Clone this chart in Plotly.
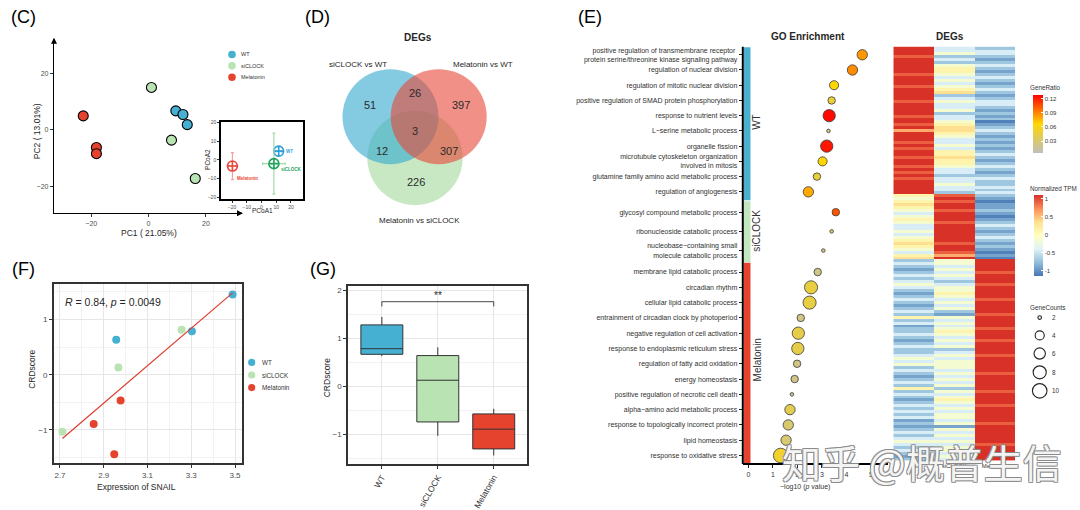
import numpy as np
import plotly.graph_objects as go

W, H = 1080, 510
FONT = "Liberation Sans, Arial, Helvetica, sans-serif"


def X(px):
    return px / W


def Y(py):
    return 1 - py / H


# ======================= DATA =======================
groups = ["WT", "siCLOCK", "Melatonin"]

# (C) PCA of samples
pca_group = ["WT", "WT", "WT", "siCLOCK", "siCLOCK", "siCLOCK",
             "Melatonin", "Melatonin", "Melatonin"]
pca_pc1 = [9.5, 12.0, 13.5, 1.0, 8.0, 16.3, -22.8, -18.2, -18.2]
pca_pc2 = [6.7, 5.4, 1.8, 15.0, -3.7, -17.3, 4.9, -6.3, -8.5]
pca_ticks = [-20, 0, 20]
pcoa_ticks = [-20, -10, 0, 10, 20]

# (D) Venn of DEGs
venn_set_names = ["siCLOCK vs WT", "Melatonin vs WT", "Melatonin vs siCLOCK"]
venn_regions = ["A", "AB", "B", "ABC", "AC", "BC", "C"]
venn_counts = [51, 26, 397, 3, 12, 307, 226]

# (E) GO enrichment
go_group = ["WT"] * 10 + ["siCLOCK"] * 3 + ["Melatonin"] * 13
go_terms = [
    "positive regulation of transmembrane receptor <br>protein serine/threonine kinase signaling pathway",
    "regulation of nuclear division",
    "regulation of mitotic nuclear division",
    "positive regulation of SMAD protein phosphorylation",
    "response to nutrient levels",
    "L\u2212serine metabolic process",
    "organelle fission",
    "microtubule cytoskeleton organization<br>involved in mitosis",
    "glutamine family amino acid metabolic process",
    "regulation of angiogenesis",
    "glycosyl compound metabolic process",
    "ribonucleoside catabolic process",
    "nucleobase\u2212containing small<br>molecule catabolic process",
    "membrane lipid catabolic process",
    "circadian rhythm",
    "cellular lipid catabolic process",
    "entrainment of circadian clock by photoperiod",
    "negative regulation of cell activation",
    "response to endoplasmic reticulum stress",
    "regulation of fatty acid oxidation",
    "energy homeostasis",
    "positive regulation of necrotic cell death",
    "alpha\u2212amino acid metabolic process",
    "response to topologically incorrect protein",
    "lipid homeostasis",
    "response to oxidative stress",
]
go_logp = [4.65, 4.25, 3.50, 3.40, 3.30, 3.27, 3.20, 3.03, 2.80, 2.45,
           3.57, 3.40, 3.06,
           2.83, 2.56, 2.50, 2.14, 2.04, 2.02, 1.99, 1.89, 1.78, 1.70, 1.63, 1.54, 1.32]
go_counts = [5, 5, 4, 3, 7, 2, 7, 4, 3, 5,
             3, 2, 2,
             3, 8, 8, 3, 7, 7, 3, 3, 2, 5, 5, 5, 10]
go_ratio = [0.085, 0.088, 0.066, 0.048, 0.125, 0.030, 0.122, 0.066, 0.047, 0.080,
            0.104, 0.033, 0.028,
            0.024, 0.046, 0.045, 0.024, 0.043, 0.043, 0.023, 0.023, 0.020, 0.040, 0.031, 0.030, 0.052]
go_xticks = [0, 1, 2, 3, 4, 5]
size_legend_counts = [2, 4, 6, 8, 10]
ratio_ticks = [0.03, 0.06, 0.09, 0.12]

# (E) heatmap of DEGs: one character per gene row,
# decoded through tpm_levels (blocks: WT-up 50, siCLOCK-up 22, Melatonin-up 68)
tpm_levels = [-1.10, -0.92, -0.72, -0.45, -0.15, 0.10, 0.34, 0.58, 0.90, 1.08]
hm_wt = ("9998999998 9998999989 9998998979 9989899899 8989899999"
         "5456543454 3343456543 56"
         "2321232343 2123212325 2312232123 2234342321 2325232123 2323121232 34323212")
hm_si = ("3342324554 3434562343 3423345665 4334355655 4332334332"
         "8989989998 9999998998 79"
         "4434343234 4543434214 3434543434 2343444343 4342434543 4344341434 34344343")
hm_mel = ("2332123212 3212321233 2121201232 1212123212 3212322323"
          "2101121012 3212321210 10"
          "9999899989 9998999989 9998999899 9989999989 9999899998 9999989999 99899999")
tpm_ticks = [-1, -0.5, 0, 0.5, 1]

# (F)/(G) CRD score vs SNAIL expression
crd_group = ["WT", "WT", "WT", "siCLOCK", "siCLOCK", "siCLOCK",
             "Melatonin", "Melatonin", "Melatonin"]
snail_expr = [3.489, 3.303, 2.957, 3.256, 2.967, 2.711, 2.977, 2.854, 2.948]
crd_score = [1.452, 0.789, 0.633, 0.817, 0.131, -1.030, -0.466, -0.890, -1.440]
snail_ticks = [2.7, 2.9, 3.1, 3.3, 3.5]
crd_ticks_f = [-1, 0, 1]
crd_ticks_g = [-1, 0, 1, 2]
cor_label = "<i>R</i> = 0.84, <i>p</i> = 0.0049"
sig_label = "**"

# ======================= STYLE =======================
col = {"WT": "#46b0d3", "siCLOCK": "#b9e3b2", "Melatonin": "#e6432f"}
inset_col = {"WT": "#2f9fd8", "siCLOCK": "#20a55c", "Melatonin": "#e64a3c"}
inset_err = {"WT": "#92cdea", "siCLOCK": "#a3dbac", "Melatonin": "#f1a29a"}
TXT = "#262626"

fig = go.Figure()
shapes = []
ann = []


def txt(px, py, text, size=8, color=TXT, xanchor="center", yanchor="middle",
        angle=0, family=FONT, **kw):
    return dict(x=X(px), y=Y(py), xref="paper", yref="paper", text=text, showarrow=False,
                font=dict(family=family, size=size, color=color), xanchor=xanchor,
                yanchor=yanchor, textangle=angle, **kw)


def circle(cx, cy, r, fill, line_color=None, lw=0, opacity=1.0, layer="above"):
    return dict(type="circle", xref="paper", yref="paper",
                x0=X(cx - r), x1=X(cx + r), y0=Y(cy + r), y1=Y(cy - r),
                fillcolor=fill, opacity=opacity, layer=layer,
                line=dict(color=line_color or fill, width=lw))


# ---------------- (C) PCA ----------------
for g in groups:
    idx = [i for i, gg in enumerate(pca_group) if gg == g]
    fig.add_trace(go.Scatter(
        x=[pca_pc1[i] for i in idx], y=[pca_pc2[i] for i in idx], mode="markers",
        marker=dict(size=10, color=col[g], line=dict(color="black", width=1.1)),
        xaxis="x", yaxis="y", hoverinfo="skip"))

# inset: group centroid +- SD
for g in groups:
    idx = [i for i, gg in enumerate(pca_group) if gg == g]
    xs = np.array([pca_pc1[i] for i in idx])
    ys = np.array([pca_pc2[i] for i in idx])
    fig.add_trace(go.Scatter(
        x=[xs.mean()], y=[ys.mean()], mode="markers",
        marker=dict(symbol="circle-cross-open", size=10, color=inset_col[g],
                    line=dict(color=inset_col[g], width=1.6)),
        error_x=dict(type="data", array=[xs.std(ddof=1)], color=inset_err[g], thickness=1.2, width=1.5),
        error_y=dict(type="data", array=[ys.std(ddof=1)], color=inset_err[g], thickness=1.2, width=1.5),
        xaxis="x2", yaxis="y2", hoverinfo="skip"))
    offs = {"WT": (5, 0), "siCLOCK": (5, -6), "Melatonin": (3, -12)}[g]
    ann.append(dict(x=xs.mean(), y=ys.mean(), xref="x2", yref="y2", text="<b>%s</b>" % g,
                    showarrow=False, xanchor="left", yanchor="middle",
                    xshift=offs[0], yshift=offs[1],
                    font=dict(family=FONT, size=4.5, color=inset_col[g])))

# C legend
for k, g in enumerate(groups):
    cy = 53 + k * 11.5
    shapes.append(circle(232, cy, 3.8, col[g]))
    ann.append(txt(239, cy, g, size=5.5, color="#333", xanchor="left"))

# axis arrows
ann.append(dict(x=X(243), y=Y(213.3), xref="paper", yref="paper", ax=-7, ay=0, text="",
                showarrow=True, arrowhead=2, arrowsize=1, arrowwidth=1.2, arrowcolor="black"))
ann.append(dict(x=X(54), y=Y(36), xref="paper", yref="paper", ax=0, ay=7, text="",
                showarrow=True, arrowhead=2, arrowsize=1, arrowwidth=1.2, arrowcolor="black"))

ann += [
    txt(23, 15, "(C)", size=18, color="black"),
    txt(36.5, 131, "PC2 ( 13.01%)", size=8.5, angle=-90),
    txt(148.5, 233.5, "PC1 ( 21.05%)", size=8.5),
    txt(262, 211, "PCoA1", size=6.5),
    txt(207.5, 159, "PCoA2", size=6.5, angle=-90),
]

# ---------------- (D) Venn ----------------
venn_circles = [  # drawing order: green, blue, red
    (415.0, 157.5, 47.7, "rgba(163,217,157,0.60)"),
    (390.5, 115.8, 48.0, "rgba(50,168,206,0.60)"),
    (438.7, 115.8, 48.0, "rgba(232,70,55,0.60)"),
]
for cx, cy, r, c in venn_circles:
    shapes.append(circle(cx, cy, r, c, layer="below"))
venn_text_px = {"A": (370, 104.5), "AB": (415, 92), "B": (460.5, 104.5), "ABC": (414.5, 130),
                "AC": (382, 150), "BC": (448.5, 150), "C": (416, 182)}
for reg, cnt in zip(venn_regions, venn_counts):
    px, py = venn_text_px[reg]
    ann.append(txt(px, py, str(cnt), size=11, color="#2a2a2a"))
ann += [
    txt(317, 15, "(D)", size=18, color="black"),
    txt(418, 36, "<b>DEGs</b>", size=10),
    txt(358, 63, venn_set_names[0], size=8),
    txt(483, 63, venn_set_names[1], size=8),
    txt(419, 221, venn_set_names[2], size=8),
]

# ---------------- (E) GO enrichment ----------------
def dot_size(c):
    return 3.6 + 11.0 * np.sqrt((c - 2) / 8.0)


facet_axes = {"WT": ("x5", "y5"), "siCLOCK": ("x6", "y6"), "Melatonin": ("x7", "y7")}
for g in groups:
    idx = [i for i, gg in enumerate(go_group) if gg == g]
    xa, ya = facet_axes[g]
    fig.add_trace(go.Scatter(
        x=[go_logp[i] for i in idx], y=[go_terms[i] for i in idx], mode="markers",
        marker=dict(size=[dot_size(go_counts[i]) for i in idx],
                    color=[go_ratio[i] for i in idx], coloraxis="coloraxis",
                    line=dict(color="#3a3a3a", width=0.8), opacity=1),
        xaxis=xa, yaxis=ya, hoverinfo="skip"))

# facet stripes
stripe = {"WT": (45.7, 200.3, "#4ab0cf"), "siCLOCK": (201.2, 262.8, "#c2e7bf"),
          "Melatonin": (263.3, 465.5, "#e6432f")}
for g in groups:
    y0, y1, c = stripe[g]
    shapes.append(dict(type="rect", xref="paper", yref="paper", x0=X(744.0), x1=X(750.5),
                       y0=Y(y1), y1=Y(y0), fillcolor=c, line=dict(width=0), layer="above"))
shapes.append(dict(type="line", xref="paper", yref="paper", x0=X(742.8), x1=X(742.8),
                   y0=Y(466.6), y1=Y(45.2), line=dict(color="black", width=2)))
ann += [
    txt(757, 121, "WT", size=10, color="#333", angle=-90),
    txt(757, 231, "siCLOCK", size=10, color="#333", angle=-90),
    txt(757, 362, "Melatonin", size=10, color="#333", angle=-90),
    txt(590, 15, "(E)", size=18, color="black"),
    txt(807.5, 34.5, "<b>GO Enrichment</b>", size=10),
    txt(805, 489.5, "\u2212log10 (<i>p</i> value)", size=7, color="#333"),
]

# heatmap
wt_rows = hm_wt.replace(" ", "")
si_rows = hm_si.replace(" ", "")
mel_rows = hm_mel.replace(" ", "")
assert len(wt_rows) == len(si_rows) == len(mel_rows)
z = [[tpm_levels[int(a)], tpm_levels[int(b)], tpm_levels[int(c)]]
     for a, b, c in zip(wt_rows, si_rows, mel_rows)]
nrow = len(z)
fig.add_trace(go.Heatmap(z=z, x=groups, y=list(range(nrow)), coloraxis="coloraxis2",
                         xaxis="x8", yaxis="y8", hoverinfo="skip"))
ann.append(txt(950, 35, "<b>DEGs</b>", size=10))

# legends for E
ann.append(txt(1027.5, 86.5, "GeneRatio", size=6.3, color="#333", xanchor="left"))
ann.append(txt(1027.5, 188.5, "Normalized TPM", size=6.3, color="#333", xanchor="left"))
ann.append(txt(1027.5, 308.5, "GeneCounts", size=6.3, color="#333", xanchor="left"))
for k, c in enumerate(size_legend_counts):
    cy = [318.7, 336.7, 355.0, 374.0, 392.7][k]
    r = dot_size(c) / 2
    shapes.append(circle(1039.7, cy, r, "rgba(0,0,0,0)", line_color="#222", lw=1.1))
    ann.append(txt(1050, cy, str(c), size=6.3, color="#333", xanchor="left"))

# ---------------- (F) scatter + regression ----------------
for g in groups:
    idx = [i for i, gg in enumerate(crd_group) if gg == g]
    fig.add_trace(go.Scatter(
        x=[snail_expr[i] for i in idx], y=[crd_score[i] for i in idx], mode="markers",
        marker=dict(size=8, color=col[g]), xaxis="x3", yaxis="y3", hoverinfo="skip"))
sx = np.array(snail_expr)
sy = np.array(crd_score)
slope, icpt = np.polyfit(sx, sy, 1)
lx = np.array([sx.min(), sx.max()])
fig.add_trace(go.Scatter(x=lx, y=slope * lx + icpt, mode="lines",
                         line=dict(color="#dc3b2e", width=1.2),
                         xaxis="x3", yaxis="y3", hoverinfo="skip"))
for k, g in enumerate(groups):
    cy = 364 + k * 12.7
    shapes.append(circle(251.7, cy, 3.6, col[g]))
    ann.append(txt(259.5, cy, g, size=6.3, color="#333", xanchor="left"))
ann += [
    txt(23, 270, "(F)", size=18, color="black"),
    txt(62.5, 303, cor_label, size=10.5, xanchor="left"),
    txt(32.5, 371, "CRDscore", size=8.5, angle=-90),
    txt(136.5, 489.5, "Expression of SNAIL", size=8.5),
]

# ---------------- (G) boxplot ----------------
for g in groups:
    idx = [i for i, gg in enumerate(crd_group) if gg == g]
    fig.add_trace(go.Box(
        x=[g] * len(idx), y=[crd_score[i] for i in idx], boxpoints=False,
        quartilemethod="linear", fillcolor=col[g], line=dict(color="#333333", width=1),
        width=0.75, whiskerwidth=0, xaxis="x4", yaxis="y4", hoverinfo="skip"))
fig.add_trace(go.Scatter(x=[groups[0], groups[0], groups[2], groups[2]],
                         y=[1.67, 1.77, 1.77, 1.67], mode="lines",
                         line=dict(color="#333", width=0.9), xaxis="x4", yaxis="y4",
                         hoverinfo="skip"))
ann.append(dict(x=1, y=1.77, xref="x4", yref="y4", text=sig_label, showarrow=False,
                yanchor="bottom", yshift=-1, font=dict(family=FONT, size=10, color=TXT)))
ann += [
    txt(323, 270, "(G)", size=18, color="black"),
    txt(327, 380, "CRDscore", size=8.5, angle=-90),
]

# watermark
ann.append(dict(x=X(922), y=Y(464), xref="paper", yref="paper", text="\u77e5\u4e4e @\u6982\u666e\u751f\u4fe1",
                showarrow=False, xanchor="center", yanchor="middle",
                font=dict(family="Noto Sans CJK SC", size=39, color="rgba(255,255,255,0.93)",
                          shadow="-1px -1px 0 #8a8a8a, 1px -1px 0 #8a8a8a, -1px 1px 0 #8a8a8a, 1px 1px 0 #8a8a8a")))

# ======================= AXES =======================
tick_font = dict(family=FONT, size=7, color="#4d4d4d")
common = dict(zeroline=False, showgrid=False, ticks="outside", ticklen=3, tickwidth=1,
              tickcolor="#333", tickfont=tick_font)

layout_axes = dict(
    xaxis=dict(domain=[X(54), X(242)], anchor="y", range=[-33, 32.6], tickvals=pca_ticks,
               showline=True, linecolor="black", linewidth=1.3, **common),
    yaxis=dict(domain=[Y(213.3), Y(37)], anchor="x", range=[-29.6, 32.3], tickvals=pca_ticks,
               showline=True, linecolor="black", linewidth=1.3, **common),
    xaxis2=dict(domain=[X(221), X(303)], anchor="y2", range=[-27.5, 28.2], tickvals=pcoa_ticks,
                showline=True, mirror=True, linecolor="black", linewidth=1.6,
                zeroline=False, showgrid=False, ticks="outside", ticklen=2, tickcolor="#333",
                tickfont=dict(family=FONT, size=5, color="#4d4d4d")),
    yaxis2=dict(domain=[Y(199.3), Y(120.7)], anchor="x2", range=[-21, 20.4], tickvals=pcoa_ticks,
                showline=True, mirror=True, linecolor="black", linewidth=1.6,
                zeroline=False, showgrid=False, ticks="outside", ticklen=2, tickcolor="#333",
                tickfont=dict(family=FONT, size=5, color="#4d4d4d")),
    xaxis3=dict(domain=[X(54), X(241.7)], anchor="y3", range=[2.6726, 3.5306],
                tickvals=snail_ticks, ticktext=[f"{v:.1f}" for v in snail_ticks],
                showline=True, mirror=True, linecolor="#333", linewidth=2,
                showgrid=True, gridcolor="#e6e6e6", gridwidth=0.8, zeroline=False,
                ticks="outside", ticklen=3, tickcolor="#333",
                tickfont=dict(family=FONT, size=8, color="#4d4d4d"),
                minor=dict(tickvals=[2.8, 3.0, 3.2, 3.4], showgrid=True, gridcolor="#f2f2f2",
                           gridwidth=0.5, ticks="")),
    yaxis3=dict(domain=[Y(465.7), Y(285)], anchor="x3", range=[-1.6, 1.64],
                tickvals=crd_ticks_f,
                showline=True, mirror=True, linecolor="#333", linewidth=2,
                showgrid=True, gridcolor="#e6e6e6", gridwidth=0.8, zeroline=False,
                ticks="outside", ticklen=3, tickcolor="#333",
                tickfont=dict(family=FONT, size=8, color="#4d4d4d"),
                minor=dict(tickvals=[-1.5, -0.5, 0.5, 1.5], showgrid=True, gridcolor="#f2f2f2",
                           gridwidth=0.5, ticks="")),
    xaxis4=dict(domain=[X(348.3), X(527.3)], anchor="y4", type="category",
                categoryorder="array", categoryarray=groups, range=[-0.6, 2.6],
                tickangle=-60, showline=True, mirror=True, linecolor="#333", linewidth=2,
                showgrid=True, gridcolor="#e6e6e6", gridwidth=0.8, zeroline=False,
                ticks="outside", ticklen=3, tickcolor="#333",
                tickfont=dict(family=FONT, size=8.5, color="#333")),
    yaxis4=dict(domain=[Y(466.7), Y(286.7)], anchor="x4", range=[-1.62, 2.1],
                tickvals=crd_ticks_g,
                showline=True, mirror=True, linecolor="#333", linewidth=2,
                showgrid=True, gridcolor="#e6e6e6", gridwidth=0.8, zeroline=False,
                ticks="outside", ticklen=3, tickcolor="#333",
                tickfont=dict(family=FONT, size=8, color="#4d4d4d"),
                minor=dict(tickvals=[-1.5, -0.5, 0.5, 1.5], showgrid=True, gridcolor="#f2f2f2",
                           gridwidth=0.5, ticks="")),
    xaxis8=dict(domain=[X(893.3), X(1015)], anchor="y8", showgrid=False, zeroline=False,
                ticks="", tickfont=dict(family=FONT, size=6, color="#333")),
    yaxis8=dict(domain=[Y(463.3), Y(45)], anchor="x8", range=[nrow - 0.5, -0.5],
                visible=False),
)

go_dom = {"WT": (45.6, 199.4), "siCLOCK": (202.6, 260.7), "Melatonin": (265.0, 465.7)}
for k, g in enumerate(groups):
    n = go_group.count(g)
    xa = "xaxis%d" % (5 + k)
    ya = "yaxis%d" % (5 + k)
    top, bot = go_dom[g]
    layout_axes[xa] = dict(domain=[X(742.7), X(888)], anchor="y%d" % (5 + k),
                           range=[-0.23, 5.7], tickvals=go_xticks, showgrid=False,
                           zeroline=False, visible=(g == "Melatonin"),
                           showline=True, linecolor="black", linewidth=2,
                           ticks="outside", ticklen=3, tickcolor="#222",
                           tickfont=dict(family=FONT, size=7, color="#333"))
    layout_axes[ya] = dict(domain=[Y(bot), Y(top)], anchor="x%d" % (5 + k), type="category",
                           categoryorder="array",
                           categoryarray=[go_terms[i] for i, gg in enumerate(go_group) if gg == g],
                           range=[n - 0.5, -0.5], showgrid=False, zeroline=False,
                           showline=False, ticks="outside", ticklen=3, tickwidth=1,
                           tickcolor="#222", tickfont=dict(family=FONT, size=7, color="#303030"))

fig.update_layout(
    width=W, height=H, margin=dict(l=0, r=0, t=0, b=0),
    paper_bgcolor="white", plot_bgcolor="white", showlegend=False,
    font=dict(family=FONT, color=TXT),
    coloraxis=dict(
        colorscale=[[0, "rgb(190,190,190)"], [0.5, "rgb(255,215,0)"], [1, "rgb(255,0,0)"]],
        cmin=0.005, cmax=0.128,
        colorbar=dict(x=X(1033), xanchor="left", y=Y(123), yanchor="middle",
                      len=58, lenmode="pixels", thickness=10, thicknessmode="pixels",
                      xpad=0, ypad=0, outlinewidth=0, tickvals=ratio_ticks,
                      ticktext=[f"{v:.2f}" for v in ratio_ticks],
                      ticks="inside", ticklen=2, tickcolor="white",
                      tickfont=dict(family=FONT, size=6, color="#333"))),
    coloraxis2=dict(
        colorscale=[[0, "#4575B4"], [1 / 6, "#91BFDB"], [2 / 6, "#E0F3F8"], [3 / 6, "#FFFFBF"],
                    [4 / 6, "#FEE090"], [5 / 6, "#FC8D59"], [1, "#D73027"]],
        cmin=-1.16, cmax=1.09,
        colorbar=dict(x=X(1034), xanchor="left", y=Y(236.2), yanchor="middle",
                      len=81, lenmode="pixels", thickness=9, thicknessmode="pixels",
                      xpad=0, ypad=0, outlinewidth=0, tickvals=tpm_ticks,
                      ticktext=["-1", "-0.5", "0", "0.5", "1"],
                      ticks="inside", ticklen=2, tickcolor="white",
                      tickfont=dict(family=FONT, size=6, color="#333"))),
    shapes=shapes,
    annotations=ann,
    **layout_axes,
)

fig.write_html("out.html", config={"displayModeBar": False},
               post_script="document.body.style.margin='0';document.body.style.padding='0';")
